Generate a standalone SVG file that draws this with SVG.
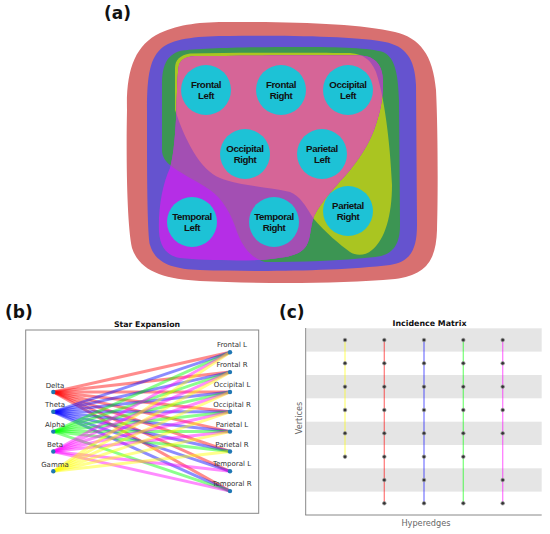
<svg xmlns="http://www.w3.org/2000/svg" width="550" height="534" viewBox="0 0 550 534">
<style>
.lbl{font-family:"DejaVu Sans",sans-serif;font-weight:bold;font-size:17px;fill:#111}
.node circle{fill:#1dc2d6}
.node text{font-family:"Liberation Sans",Arial,sans-serif;font-weight:bold;font-size:9.7px;letter-spacing:-0.4px;fill:#111;text-anchor:middle}
.ttl{font-family:"DejaVu Sans",sans-serif;font-weight:bold;font-size:7.8px;fill:#111;text-anchor:middle}
.bl{font-family:"DejaVu Sans",sans-serif;font-size:7px;fill:#333;text-anchor:middle}
.ax{font-family:"DejaVu Sans",sans-serif;font-size:8.2px;fill:#666;text-anchor:middle}
.e line{stroke-width:3;stroke-opacity:0.45}
.dot{fill:#1f77b4}
.md circle{fill:#333;stroke:#999;stroke-width:0.7}
.col{stroke-width:1.3;stroke-opacity:0.5}
</style>
<defs>
<path id="shRed" d="M127,110 C126,70 135,45 160,33 C180,24 200,22 230,22 C300,22 360,24 395,32 C420,38 433,55 436,90 C438,130 438,200 437,230 C436,262 425,275 395,279 C340,284 260,284 200,281 C165,279 140,272 132,248 C127,225 126,160 127,110 Z"/>
<path id="shBlue" d="M147,110 C147,75 150,57 163,47 C175,38 200,36 230,36 C300,35 360,37 385,42 C405,46 415,58 416,85 L417,225 C417,250 410,262 390,265 C340,271 260,272 200,270 C170,269 155,262 150,245 C147,230 147,160 147,110 Z"/>
<path id="shGreen" d="M162,150 L162,85 C162,65 167,55 180,51 C200,48 250,47 300,47 C340,47 370,48 383,52 C394,57 398,70 399,100 L400,225 C400,245 393,255 375,257 C340,261 300,262 265,262 C250,258 242,245 237,232 C232,215 222,198 210,190 C195,180 178,172 170,165 C164,160 162,155 162,150 Z"/>
<path id="shYellow" d="M175,110 L175,68 C175,60 180,55 190,53.5 C250,52.5 320,52.5 350,53 C365,54 372,62 376,72 C384,95 390,140 392,185 C392,215 385,240 372,250 C365,256 356,256 350,252 C340,245 325,232 313,218 C305,205 300,196 290,192 C270,187 240,186 220,178 C200,170 185,140 175,110 Z"/>
<path id="shMag" d="M176.5,110 C177,90 177.5,75 178.5,68 C179.5,60 184,57 195,56 C260,55.5 330,55.5 360,55.5 C376,56 383,66 383,82 C383,100 380,112 376,124 C371,140 362,155 350,170 C337,185 322,200 314,216 C309,230 312,245 300,252 C290,258 275,258 262,260 C230,261 200,260 180,258 C168,256 160,248 159,232 C158,210 162,185 170,168 C174,155 175.5,130 176.5,110 Z"/>
<clipPath id="clipMag"><use href="#shMag"/></clipPath>
</defs>
<text class="lbl" x="104" y="19">(a)</text>
<g id="hyperedges-a">
<use href="#shRed" fill="#d87070"/>
<use href="#shBlue" fill="#6553cf"/>
<use href="#shGreen" fill="#3c9553"/>
<use href="#shYellow" fill="#aac521"/>
<use href="#shMag" fill="#b52ee6"/>
<use href="#shGreen" fill="#a34fb3" clip-path="url(#clipMag)"/>
<use href="#shYellow" fill="#d66597" clip-path="url(#clipMag)"/>
</g>
<g id="n-frontal-left" class="node"><circle cx="206" cy="90" r="25"/><text x="206" y="87.7">Frontal</text><text x="206" y="98.7">Left</text></g>
<g id="n-frontal-right" class="node"><circle cx="281" cy="90" r="25"/><text x="281" y="87.7">Frontal</text><text x="281" y="98.7">Right</text></g>
<g id="n-occipital-left" class="node"><circle cx="348" cy="90" r="25"/><text x="348" y="87.7">Occipital</text><text x="348" y="98.7">Left</text></g>
<g id="n-occipital-right" class="node"><circle cx="245" cy="154" r="25"/><text x="245" y="151.7">Occipital</text><text x="245" y="162.7">Right</text></g>
<g id="n-parietal-left" class="node"><circle cx="322" cy="154" r="25"/><text x="322" y="151.7">Parietal</text><text x="322" y="162.7">Left</text></g>
<g id="n-parietal-right" class="node"><circle cx="348" cy="211" r="25"/><text x="348" y="208.7">Parietal</text><text x="348" y="219.7">Right</text></g>
<g id="n-temporal-left" class="node"><circle cx="192" cy="222" r="25"/><text x="192" y="219.7">Temporal</text><text x="192" y="230.7">Left</text></g>
<g id="n-temporal-right" class="node"><circle cx="274" cy="222" r="25"/><text x="274" y="219.7">Temporal</text><text x="274" y="230.7">Right</text></g>

<text class="lbl" x="5" y="318">(b)</text>
<text class="ttl" x="147" y="327">Star Expansion</text>
<rect x="25.7" y="330" width="233" height="183.3" fill="#fff" stroke="#888" stroke-width="1"/>
<g id="connectors-b" class="e">
<g stroke="#ff0000">
<line x1="53.3" y1="392" x2="230" y2="352.3"/><line x1="53.3" y1="392" x2="230" y2="372.1"/><line x1="53.3" y1="392" x2="230" y2="392"/><line x1="53.3" y1="392" x2="230" y2="411.8"/><line x1="53.3" y1="392" x2="230" y2="431.6"/><line x1="53.3" y1="392" x2="230" y2="451.5"/><line x1="53.3" y1="392" x2="230" y2="471.3"/><line x1="53.3" y1="392" x2="230" y2="491.1"/>
</g>
<g stroke="#0000ff">
<line x1="53.3" y1="411.8" x2="230" y2="352.3"/><line x1="53.3" y1="411.8" x2="230" y2="372.1"/><line x1="53.3" y1="411.8" x2="230" y2="392"/><line x1="53.3" y1="411.8" x2="230" y2="411.8"/><line x1="53.3" y1="411.8" x2="230" y2="431.6"/><line x1="53.3" y1="411.8" x2="230" y2="451.5"/><line x1="53.3" y1="411.8" x2="230" y2="471.3"/><line x1="53.3" y1="411.8" x2="230" y2="491.1"/>
</g>
<g stroke="#00ff00">
<line x1="53.3" y1="431.6" x2="230" y2="352.3"/><line x1="53.3" y1="431.6" x2="230" y2="372.1"/><line x1="53.3" y1="431.6" x2="230" y2="392"/><line x1="53.3" y1="431.6" x2="230" y2="411.8"/><line x1="53.3" y1="431.6" x2="230" y2="431.6"/><line x1="53.3" y1="431.6" x2="230" y2="451.5"/><line x1="53.3" y1="431.6" x2="230" y2="491.1"/>
</g>
<g stroke="#ff00ff">
<line x1="53.3" y1="451.5" x2="230" y2="352.3"/><line x1="53.3" y1="451.5" x2="230" y2="372.1"/><line x1="53.3" y1="451.5" x2="230" y2="392"/><line x1="53.3" y1="451.5" x2="230" y2="411.8"/><line x1="53.3" y1="451.5" x2="230" y2="431.6"/><line x1="53.3" y1="451.5" x2="230" y2="471.3"/><line x1="53.3" y1="451.5" x2="230" y2="491.1"/>
</g>
<g stroke="#ffff00">
<line x1="53.3" y1="471.3" x2="230" y2="352.3"/><line x1="53.3" y1="471.3" x2="230" y2="372.1"/><line x1="53.3" y1="471.3" x2="230" y2="392"/><line x1="53.3" y1="471.3" x2="230" y2="411.8"/><line x1="53.3" y1="471.3" x2="230" y2="431.6"/><line x1="53.3" y1="471.3" x2="230" y2="451.5"/>
</g>
</g>
<g id="b-delta"><circle class="dot" cx="53.3" cy="392" r="2.2"/><text class="bl" x="55" y="387.5">Delta</text></g>
<g id="b-theta"><circle class="dot" cx="53.3" cy="411.8" r="2.2"/><text class="bl" x="55" y="407.3">Theta</text></g>
<g id="b-alpha"><circle class="dot" cx="53.3" cy="431.6" r="2.2"/><text class="bl" x="55" y="427.1">Alpha</text></g>
<g id="b-beta"><circle class="dot" cx="53.3" cy="451.5" r="2.2"/><text class="bl" x="55" y="447">Beta</text></g>
<g id="b-gamma"><circle class="dot" cx="53.3" cy="471.3" r="2.2"/><text class="bl" x="55" y="466.8">Gamma</text></g>
<g id="b-frontal-l"><circle class="dot" cx="230" cy="352.3" r="2.2"/><text class="bl" x="232" y="347.3">Frontal L</text></g>
<g id="b-frontal-r"><circle class="dot" cx="230" cy="372.1" r="2.2"/><text class="bl" x="232" y="367.1">Frontal R</text></g>
<g id="b-occipital-l"><circle class="dot" cx="230" cy="392" r="2.2"/><text class="bl" x="232" y="387">Occipital L</text></g>
<g id="b-occipital-r"><circle class="dot" cx="230" cy="411.8" r="2.2"/><text class="bl" x="232" y="406.8">Occipital R</text></g>
<g id="b-parietal-l"><circle class="dot" cx="230" cy="431.6" r="2.2"/><text class="bl" x="232" y="426.6">Parietal L</text></g>
<g id="b-parietal-r"><circle class="dot" cx="230" cy="451.5" r="2.2"/><text class="bl" x="232" y="446.5">Parietal R</text></g>
<g id="b-temporal-l"><circle class="dot" cx="230" cy="471.3" r="2.2"/><text class="bl" x="232" y="466.3">Temporal L</text></g>
<g id="b-temporal-r"><circle class="dot" cx="230" cy="491.1" r="2.2"/><text class="bl" x="232" y="486.1">Temporal R</text></g>

<text class="lbl" x="279" y="318">(c)</text>
<text class="ttl" x="429.5" y="325.5" style="font-size:7.9px">Incidence Matrix</text>
<g id="bands" fill="#e5e5e5">
<rect x="306.2" y="328.3" width="235.5" height="23.3"/>
<rect x="306.2" y="375" width="235.5" height="23.3"/>
<rect x="306.2" y="421.7" width="235.5" height="23.3"/>
<rect x="306.2" y="468.3" width="235.5" height="23.3"/>
</g>
<g id="axes" stroke="#888" stroke-width="1" fill="none">
<line x1="305.7" y1="328" x2="305.7" y2="515"/>
<line x1="305.2" y1="515" x2="541.7" y2="515"/>
</g>
<text class="ax" x="426" y="526">Hyperedges</text>
<text class="ax" transform="translate(301.5,418) rotate(-90)">Vertices</text>
<g id="connectors-c">
<line class="col" stroke="#ffff00" x1="345" y1="340" x2="345" y2="456.7"/>
<line class="col" stroke="#ff0000" x1="384.3" y1="340" x2="384.3" y2="503.3"/>
<line class="col" stroke="#0000ff" x1="424" y1="340" x2="424" y2="503.3"/>
<line class="col" stroke="#00ff00" x1="463.3" y1="340" x2="463.3" y2="503.3"/>
<line class="col" stroke="#ff00ff" x1="502.7" y1="340" x2="502.7" y2="503.3"/>
</g>
<g id="matrix-dots" class="md">
<circle cx="345" cy="340" r="1.8"/><circle cx="345" cy="363.3" r="1.8"/><circle cx="345" cy="386.7" r="1.8"/><circle cx="345" cy="410" r="1.8"/><circle cx="345" cy="433.3" r="1.8"/><circle cx="345" cy="456.7" r="1.8"/>
<circle cx="384.3" cy="340" r="1.8"/><circle cx="384.3" cy="363.3" r="1.8"/><circle cx="384.3" cy="386.7" r="1.8"/><circle cx="384.3" cy="410" r="1.8"/><circle cx="384.3" cy="433.3" r="1.8"/><circle cx="384.3" cy="456.7" r="1.8"/><circle cx="384.3" cy="480" r="1.8"/><circle cx="384.3" cy="503.3" r="1.8"/>
<circle cx="424" cy="340" r="1.8"/><circle cx="424" cy="363.3" r="1.8"/><circle cx="424" cy="386.7" r="1.8"/><circle cx="424" cy="410" r="1.8"/><circle cx="424" cy="433.3" r="1.8"/><circle cx="424" cy="456.7" r="1.8"/><circle cx="424" cy="480" r="1.8"/><circle cx="424" cy="503.3" r="1.8"/>
<circle cx="463.3" cy="340" r="1.8"/><circle cx="463.3" cy="363.3" r="1.8"/><circle cx="463.3" cy="386.7" r="1.8"/><circle cx="463.3" cy="410" r="1.8"/><circle cx="463.3" cy="433.3" r="1.8"/><circle cx="463.3" cy="456.7" r="1.8"/><circle cx="463.3" cy="503.3" r="1.8"/>
<circle cx="502.7" cy="340" r="1.8"/><circle cx="502.7" cy="363.3" r="1.8"/><circle cx="502.7" cy="386.7" r="1.8"/><circle cx="502.7" cy="410" r="1.8"/><circle cx="502.7" cy="433.3" r="1.8"/><circle cx="502.7" cy="480" r="1.8"/><circle cx="502.7" cy="503.3" r="1.8"/>
</g>
</svg>
